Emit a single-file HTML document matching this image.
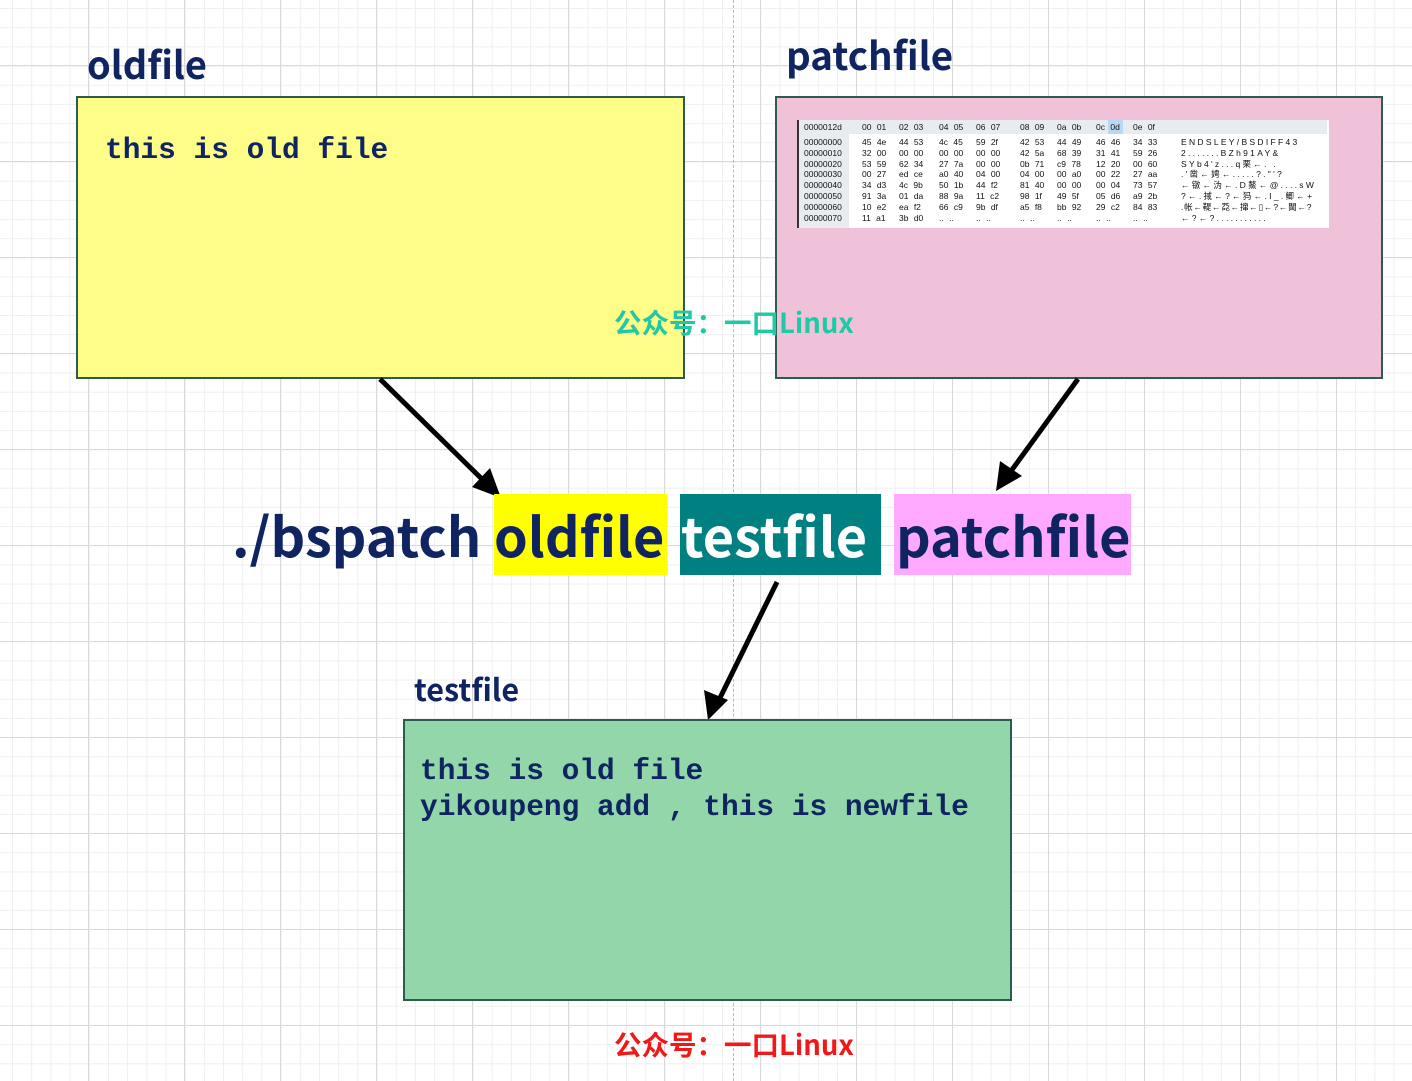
<!DOCTYPE html>
<html><head><meta charset="utf-8"><style>
body{margin:0;width:1412px;height:1081px;position:relative;overflow:hidden;background:#fff;
background-image:linear-gradient(#d9d9d9 1px,transparent 1px),linear-gradient(90deg,#d9d9d9 1px,transparent 1px),linear-gradient(#efefef 1px,transparent 1px),linear-gradient(90deg,#efefef 1px,transparent 1px);
background-size:96px 96px,96px 96px,19.2px 19.2px,19.2px 19.2px;background-position:0 65px,88px 0,0 8px,12px 0;}
.a{position:absolute}
.t{font-family:"Noto Sans CJK SC","Liberation Sans",sans-serif;font-weight:bold;color:#0f2461;white-space:nowrap}
.box{position:absolute;border:2px solid #2d5b50;box-sizing:border-box}
.code{font-family:"Liberation Mono",monospace;font-weight:bold;color:#0f2461;font-size:29.5px;line-height:36px;white-space:pre}
.hex{position:absolute;font-family:"Liberation Sans",sans-serif;font-size:8.5px;line-height:10.8px;color:#111;white-space:pre;word-spacing:3px}
</style></head><body>
<div class="a" style="left:733px;top:0;height:1081px;border-left:1px dashed #bbb"></div>
<div class="a t" style="left:87px;top:38px;font-size:38px;line-height:50px">oldfile</div>
<div class="a t" style="left:786px;top:29px;font-size:38.5px;line-height:50px">patchfile</div>
<div class="box" style="left:76px;top:96px;width:609px;height:283px;background:#fdfd88"></div>
<div class="a code" style="left:105px;top:132px">this is old file</div>
<div class="box" style="left:775px;top:96px;width:608px;height:283px;background:#f0c2da"></div>
<div class="a" style="left:797px;top:120px;width:530px;height:108px;background:#fff;border-left:2px solid #333"></div>
<div class="a" style="left:799px;top:120px;width:528px;height:14px;background:#e8ecf0"></div>
<div class="a" style="left:799px;top:134px;width:50px;height:94px;background:#e8ecf0"></div>
<div class="a" style="left:1108px;top:120px;width:15px;height:14px;background:#b8d8f4"></div>
<div class="hex" style="left:804px;top:122px">0000012d</div>
<div class="hex" style="left:862px;top:122px">00 01</div>
<div class="hex" style="left:899px;top:122px">02 03</div>
<div class="hex" style="left:939px;top:122px">04 05</div>
<div class="hex" style="left:976px;top:122px">06 07</div>
<div class="hex" style="left:1020px;top:122px">08 09</div>
<div class="hex" style="left:1057px;top:122px">0a 0b</div>
<div class="hex" style="left:1096px;top:122px">0c 0d</div>
<div class="hex" style="left:1133px;top:122px">0e 0f</div>
<div class="hex" style="left:804px;top:137px">00000000
00000010
00000020
00000030
00000040
00000050
00000060
00000070</div>
<div class="hex" style="left:862px;top:137px">45 4e
32 00
53 59
00 27
34 d3
91 3a
10 e2
11 a1</div>
<div class="hex" style="left:899px;top:137px">44 53
00 00
62 34
ed ce
4c 9b
01 da
ea f2
3b d0</div>
<div class="hex" style="left:939px;top:137px">4c 45
00 00
27 7a
a0 40
50 1b
88 9a
66 c9
.. ..</div>
<div class="hex" style="left:976px;top:137px">59 2f
00 00
00 00
04 00
44 f2
11 c2
9b df
.. ..</div>
<div class="hex" style="left:1020px;top:137px">42 53
42 5a
0b 71
04 00
81 40
98 1f
a5 f8
.. ..</div>
<div class="hex" style="left:1057px;top:137px">44 49
68 39
c9 78
00 a0
00 00
49 5f
bb 92
.. ..</div>
<div class="hex" style="left:1096px;top:137px">46 46
31 41
12 20
00 22
00 04
05 d6
29 c2
.. ..</div>
<div class="hex" style="left:1133px;top:137px">34 33
59 26
00 60
27 aa
73 57
a9 2b
84 83
.. ..</div>
<div class="hex" style="left:1181px;top:137px;letter-spacing:2.3px;word-spacing:0">ENDSLEY/BSDIFF43
2.......BZh91AY&amp;
SYb4'z...q栗←. .
.'凿←娉←.....?."'?
←镦←沩←.D鰲←@....sW
?←.掝←?←犸←.I_.鲫←+
<span style="letter-spacing:0.8px">.帐←鞮←莻←撺←▯←?←閫←?</span>
←?←?...........</div>
<div class="a t" style="left:614px;top:303px;font-size:27.5px;line-height:36px;color:#1fc9a5">公众号：一口Linux</div>
<svg class="a" style="left:0;top:0" width="1412" height="1081">
<g stroke="#000" stroke-width="5" fill="none">
<line x1="380" y1="379" x2="488" y2="485"/>
<line x1="1078" y1="379" x2="1006" y2="478"/>
<line x1="777" y1="582" x2="717" y2="704"/>
</g>
<polygon points="501,498 472,487 490,468" fill="#000"/>
<polygon points="996,491 1000,461 1022,476" fill="#000"/>
<polygon points="708,720 704,690 728,700" fill="#000"/>
</svg>
<div class="a" style="left:494px;top:494px;width:173px;height:81px;background:#ffff00"></div>
<div class="a" style="left:680px;top:494px;width:201px;height:81px;background:#008080"></div>
<div class="a" style="left:894px;top:494px;width:237px;height:81px;background:#ffa8ff"></div>
<div class="a t" style="left:232px;top:496px;font-size:54px;line-height:76px">./bspatch</div>
<div class="a t" style="left:494px;top:496px;font-size:54px;line-height:76px">oldfile</div>
<div class="a t" style="left:681px;top:496px;font-size:54px;line-height:76px;color:#fff">testfile</div>
<div class="a t" style="left:896px;top:496px;font-size:54px;line-height:76px">patchfile</div>
<div class="a t" style="left:414px;top:667px;font-size:30.5px;line-height:42px">testfile</div>
<div class="box" style="left:403px;top:719px;width:609px;height:282px;background:#92d6aa"></div>
<div class="a code" style="left:420px;top:753px">this is old file
yikoupeng add , this is newfile</div>
<div class="a t" style="left:614px;top:1025px;font-size:27.5px;line-height:36px;color:#f01818">公众号：一口Linux</div>
</body></html>
